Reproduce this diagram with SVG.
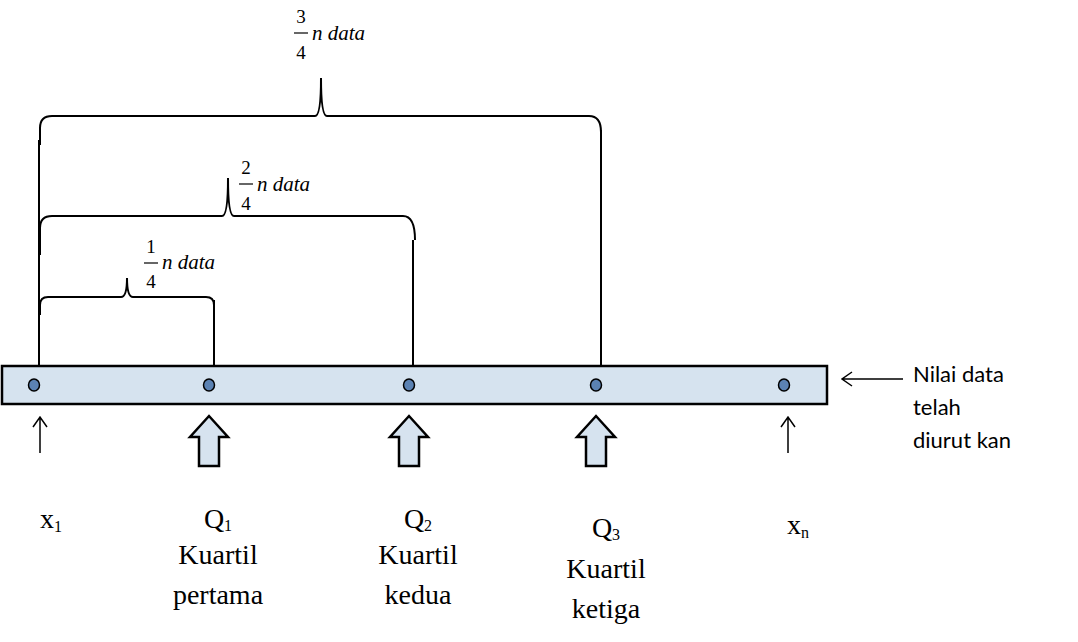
<svg xmlns="http://www.w3.org/2000/svg" width="1078" height="642" viewBox="0 0 1078 642">
<style>
.ln{fill:none;stroke:#000;stroke-width:2}
.th{fill:none;stroke:#000;stroke-width:1.5}
.dot{fill:#5b82b3;stroke:#000;stroke-width:1.5}
.ha{fill:#d6e3ef;stroke:#000;stroke-width:2.5}
.m{font-family:"Liberation Serif",serif;font-style:italic;font-size:21px}
.f{font-family:"Liberation Serif",serif;font-size:19px}
.s{font-family:"Liberation Serif",serif;font-size:28px}
.g{font-family:"Lato","Liberation Sans",sans-serif;font-size:22px}
</style>
<rect width="1078" height="642" fill="#fff"/>
<g id="connectors">
<path class="ln" d="M39 140V385M214 300V380M413 240V380M601 130V380"/>
<path class="ln" d="M40 315V305Q40 297 48 297H121Q127 297 127 278Q127 297 133 297H206Q214 297 214 305V315"/>
<path class="ln" d="M40 255V228Q40 216 52 216H222Q228 216 228 178Q228 216 234 216H403Q415 216 415 240"/>
<path class="ln" d="M40 145V128Q40 116 52 116H315Q321 116 321 78Q321 116 327 116H589Q601 116 601 132"/>
<path class="th" d="M40 453V417M33 427L40 417L47 427M788 453V417M781 427L788 417L795 427"/>
<path class="th" d="M903 379H842M852 372L842 379L852 386"/>
</g>
<g id="bar">
<rect x="2" y="366" width="825" height="38" fill="#d6e3ef" stroke="#000" stroke-width="2.5"/>
<ellipse class="dot" cx="34" cy="385" rx="5.5" ry="6"/>
<ellipse class="dot" cx="209" cy="385" rx="5.5" ry="6"/>
<ellipse class="dot" cx="409" cy="385" rx="5.5" ry="6"/>
<ellipse class="dot" cx="596" cy="385" rx="5.5" ry="6"/>
<ellipse class="dot" cx="784" cy="385" rx="5.5" ry="6"/>
</g>
<g id="arrows">
<path class="ha" d="M209 416L228 437H219V466H199V437H190Z"/>
<path class="ha" d="M409 416L428 437H419V466H399V437H390Z"/>
<path class="ha" d="M596 416L615 437H606V466H586V437H577Z"/>
</g>
<g id="labels">
<text class="f" x="301" y="23" text-anchor="middle">3</text><path d="M294 33H308" stroke="#000" stroke-width="1.2"/><text class="f" x="301" y="59" text-anchor="middle">4</text><text class="m" x="312" y="40">n data</text>
<text class="f" x="246" y="174" text-anchor="middle">2</text><path d="M239 184H253" stroke="#000" stroke-width="1.2"/><text class="f" x="246" y="210" text-anchor="middle">4</text><text class="m" x="257" y="191">n data</text>
<text class="f" x="151" y="253" text-anchor="middle">1</text><path d="M144 263H158" stroke="#000" stroke-width="1.2"/><text class="f" x="151" y="288" text-anchor="middle">4</text><text class="m" x="162" y="269">n data</text>
<text class="g" x="913" y="382">Nilai data</text>
<text class="g" x="913" y="415">telah</text>
<text class="g" x="913" y="448">diurut kan</text>
<text class="s" x="40" y="528" font-size="24">x<tspan font-size="16" dy="4">1</tspan></text>
<text class="s" x="787" y="534" font-size="24">x<tspan font-size="16" dy="4">n</tspan></text>
<text class="s" x="218" y="528" text-anchor="middle">Q<tspan font-size="16" dy="3">1</tspan></text>
<text class="s" x="218" y="564" text-anchor="middle">Kuartil</text>
<text class="s" x="218" y="604" text-anchor="middle">pertama</text>
<text class="s" x="418" y="528" text-anchor="middle">Q<tspan font-size="16" dy="3">2</tspan></text>
<text class="s" x="418" y="564" text-anchor="middle">Kuartil</text>
<text class="s" x="418" y="604" text-anchor="middle">kedua</text>
<text class="s" x="606" y="537" text-anchor="middle">Q<tspan font-size="16" dy="3">3</tspan></text>
<text class="s" x="606" y="578" text-anchor="middle">Kuartil</text>
<text class="s" x="606" y="618" text-anchor="middle">ketiga</text>
</g>
</svg>
